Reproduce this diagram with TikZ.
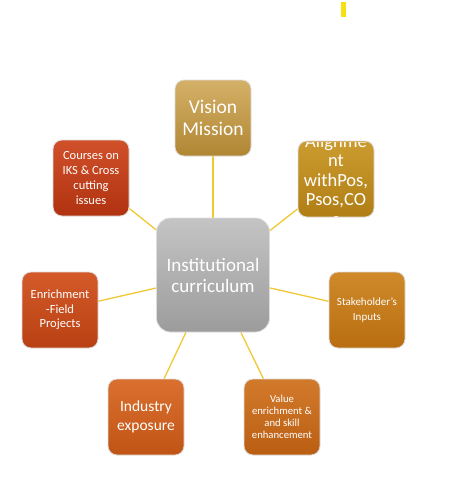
\documentclass[tikz,border=0pt]{standalone}
\usepackage{fontspec}
\setmainfont{Carlito}
\usetikzlibrary{backgrounds}
\definecolor{linecol}{HTML}{F0C834}
\definecolor{markcol}{HTML}{F5E010}
\definecolor{visA}{HTML}{D4B068}\definecolor{visB}{HTML}{B08632}
\definecolor{aliA}{HTML}{CC9C30}\definecolor{aliB}{HTML}{B07E14}
\definecolor{iksA}{HTML}{D0502A}\definecolor{iksB}{HTML}{B03210}
\definecolor{cenA}{HTML}{C4C4C4}\definecolor{cenB}{HTML}{9C9C9C}
\definecolor{enrA}{HTML}{D45A2A}\definecolor{enrB}{HTML}{B84012}
\definecolor{staA}{HTML}{D08A2A}\definecolor{staB}{HTML}{B86E10}
\definecolor{indA}{HTML}{DA7030}\definecolor{indB}{HTML}{C05414}
\definecolor{valA}{HTML}{D27A2C}\definecolor{valB}{HTML}{BA5E12}
\definecolor{edgecol}{HTML}{DDDDDD}
\tikzset{
  box/.style={rounded corners=9pt, minimum width=76pt, minimum height=76pt,
    draw=edgecol, line width=0.8pt, text=white, align=center, inner sep=1pt,
    font=\fontsize{12.5}{15.3}\selectfont},
  conn/.style={draw=linecol, line width=1.3pt},
  shade2/.style 2 args={top color=#1, bottom color=#2},
}
\begin{document}
\begin{tikzpicture}[x=1pt,y=-1pt]
\useasboundingbox (0,0) rectangle (474,482);
\fill[markcol] (341,2) rectangle (346,17);
\node[box, shade2={visA}{visB}, font=\fontsize{19.5}{22}\selectfont] (vis) at (213,118) {Vision\\Mission};
\node[box, shade2={aliA}{aliB}] (ali) at (336,179) {};
\begin{scope}
\clip[rounded corners=9pt] (298.4,141.4) rectangle (373.6,216.6);
\node[text=white, align=center, font=\fontsize{18.5}{19.5}\selectfont] at (336,180) {Alignme\\nt\\withPos,\\Psos,CO\\s};
\end{scope}
\node[box, shade2={iksA}{iksB}] (iks) at (91,178) {Courses on\\IKS \& Cross\\cutting\\issues};
\node[box, minimum width=113pt, minimum height=114pt, rounded corners=14pt, shade2={cenA}{cenB}, font=\fontsize{19}{21}\selectfont] (cen) at (213,275) {Institutional\\curriculum};
\node[box, shade2={enrA}{enrB}, font=\fontsize{12.5}{14.5}\selectfont] (enr) at (60,310) {Enrichment\\-Field\\Projects};
\node[box, shade2={staA}{staB}, font=\fontsize{11}{15}\selectfont] (sta) at (367,310) {Stakeholder's\\Inputs};
\node[box, shade2={indA}{indB}, font=\fontsize{15.5}{19}\selectfont] (ind) at (146,417) {Industry\\exposure};
\node[box, shade2={valA}{valB}, font=\fontsize{10.7}{12}\selectfont] (val) at (282,417) {Value\\enrichment \&\\and skill\\enhancement};
\begin{scope}[on background layer]
\draw[conn] (cen) -- (vis);
\draw[conn] (cen) -- (ali);
\draw[conn] (cen) -- (iks);
\draw[conn] (cen) -- (enr);
\draw[conn] (cen) -- (sta);
\draw[conn] (cen) -- (ind);
\draw[conn] (cen) -- (val);
\end{scope}
\end{tikzpicture}
\end{document}
